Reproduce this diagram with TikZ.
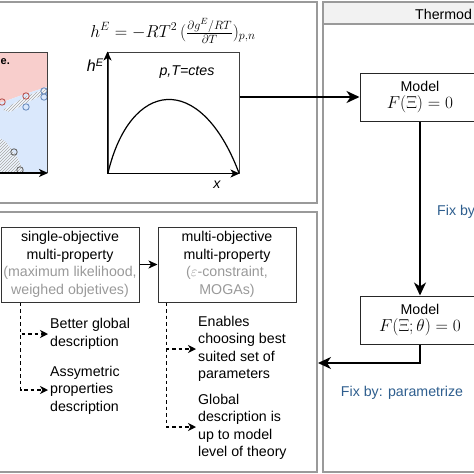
\documentclass[tikz,border=0pt]{standalone}
\usepackage{fontspec}
\setsansfont{Liberation Sans}
\usetikzlibrary{arrows.meta,patterns,calc}
\definecolor{panelgray}{HTML}{9A9A9A}
\definecolor{headfill}{HTML}{F2F2F2}
\definecolor{pinkfill}{HTML}{F8CECC}
\definecolor{bluefill}{HTML}{DAE8FC}
\definecolor{redc}{HTML}{B85450}
\definecolor{bluec}{HTML}{6C8EBF}
\definecolor{fixblue}{HTML}{2E5E8E}
\definecolor{subgray}{HTML}{999999}
\begin{document}
\begin{tikzpicture}[x=1pt,y=-1pt,
  every node/.style={font=\sffamily\fontsize{14.2}{17.5}\selectfont},
  panel/.style={draw=panelgray,line width=1.3pt},
  box/.style={draw=black!80,line width=1pt,align=center,inner sep=0pt,minimum width=138pt,minimum height=75pt},
  modelbox/.style={draw=black!85,line width=1pt,align=center,inner sep=0pt,minimum width=120pt,minimum height=48pt},
  mainarrow/.style={line width=2pt,-{Stealth[length=13pt,width=12pt,inset=4pt]}},
  dasharrow/.style={line width=1.2pt,dash pattern=on 3.5pt off 3pt,-{Stealth[length=8pt,width=8pt,inset=2.5pt]}},
  axisarrow/.style={line width=1.3pt,-{Stealth[length=9pt,width=8pt,inset=2.5pt]}},
  note/.style={align=left,anchor=west,inner sep=2pt},
  fixtext/.style={text=fixblue},
  sub/.style={text=subgray}]
\useasboundingbox (0,0) rectangle (474,474);
\clip (0,0) rectangle (474,474);
% panels
\draw[panel] (-5,2) -- (317,2) -- (317,203) -- (-5,203);
\draw[panel] (-5,212) -- (317,212) -- (317,472) -- (-5,472);
\draw[panel,fill=headfill] (480,2) -- (323,2) -- (323,24) -- (480,24);
\draw[panel] (323,24) -- (323,472) -- (480,472);
\node[anchor=west,inner sep=0pt] (title) at (415,14) {Thermod};
% left partial plot
\fill[pinkfill] (-5,52) -- (47,52) -- (47,87) -- (25,94) -- (0,103) -- (-5,104) -- cycle;
\fill[bluefill] (-5,104) -- (0,103) -- (25,94) -- (47,87) -- (47,173) -- (-5,173) -- cycle;
\fill[white!70!bluefill] (3,110) -- (25,97) -- (47,88) -- (47,93) -- (30,101) -- (10,112) -- cycle;
\fill[pattern=north east lines,pattern color=gray!70] (3,110) -- (25,97) -- (47,88) -- (47,93) -- (30,101) -- (10,112) -- cycle;
\fill[white!60!bluefill] (-5,135) -- (6,142) -- (18,158) -- (24,173) -- (-5,173) -- cycle;
\fill[pattern=north east lines,pattern color=gray!70] (-5,135) -- (6,142) -- (18,158) -- (24,173) -- (-5,173) -- cycle;
\node[anchor=west,inner sep=0pt,font=\sffamily\bfseries\fontsize{11}{11}\selectfont] (etxt) at (0.5,62) {e.};
\draw[redc,line width=0.9pt] (2,102) circle[radius=3.2pt] (26,96) circle[radius=3.2pt];
\draw[bluec,line width=0.9pt] (26,107) circle[radius=3.2pt] (44,91) circle[radius=3.2pt] (44,97) circle[radius=3.2pt];
\draw[black!60,line width=0.9pt] (14,152) circle[radius=3.2pt] (20,170) circle[radius=3.2pt];
\draw[black!75,line width=1pt] (-5,52) -- (47,52) -- (47,173);
\draw[axisarrow] (-5,173) -- (48,173);
% middle plot
\node[font=\fontsize{18}{20}\selectfont] (formula) at (173,31) {$h^E=-RT^2\,(\frac{\partial g^E/RT}{\partial T})_{p,n}$};
\node[draw=black!75,line width=1pt,minimum width=131pt,minimum height=121pt,inner sep=0pt] (plot) at (173.5,112.5) {};
\draw[axisarrow] (plot.south west) -- (plot.north west);
\draw[axisarrow] (plot.south west) -- (plot.south east);
\draw[line width=1.2pt] (108,173) .. controls (130,80) and (200,70) .. (239,173);
\node (hlabel) at (95,65) {\fontsize{16}{16}\selectfont\itshape h\raisebox{5pt}{\fontsize{11}{11}\selectfont E}};
\node (ctes) at (187,72) {\itshape p,T=ctes};
\node (xlabel) at (217,185) {\itshape x};
% right panel
\node[modelbox] (m1) at (420,97) {Model\\[0pt]{\fontsize{17.5}{19}\selectfont $F(\Xi)=0$}};
\node[modelbox] (m2) at (420,320) {Model\\[0pt]{\fontsize{17.5}{19}\selectfont $F(\Xi;\theta)=0$}};
\draw[mainarrow] (plot.east |- m1.west) -- (m1.west);
\draw[mainarrow] (m1.south) -- (m2.north);
\coordinate (back) at (318,363);
\draw[mainarrow] (m2.south) |- (back);
\node[fixtext,anchor=west,inner sep=0pt] (fix1) at (437,212) {Fix by};
\node[fixtext] (fix2) at (402,393) {Fix by: parametrize};
% bottom-left panel
\node[box] (A) at (70,264.5) {single-objective\\multi-property\\{\color{subgray}(maximum likelihood,}\\{\color{subgray}weighed objetives)}};
\node[box] (B) at (227,264.5) {multi-objective\\multi-property\\{\color{subgray}($\varepsilon$-constraint,}\\{\color{subgray}MOGAs)}};
\draw[line width=1.3pt,-{Stealth[length=9pt,width=8pt,inset=2.5pt]}] (A.east) -- (B.west);
\node[note] (t1) at (48,334) {Better global\\description};
\node[note] (t2) at (48,390) {Assymetric\\properties\\description};
\node[note] (t3) at (196,349) {Enables\\choosing best\\suited set of\\parameters};
\node[note] (t4) at (196,427) {Global\\description is\\up to model\\level of theory};
\coordinate (Ad) at ($(A.south west)+(20,0)$);
\coordinate (Bd) at ($(B.south west)+(9,0)$);
\draw[dasharrow] (Ad) |- (t1.west);
\draw[dasharrow] (Ad) |- (t2.west);
\draw[dasharrow] (Bd) |- (t3.west);
\draw[dasharrow] (Bd) |- (t4.west);
\end{tikzpicture}
\end{document}
